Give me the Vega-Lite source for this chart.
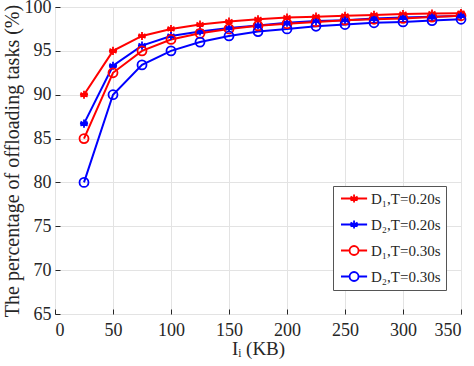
{
  "$schema": "https://vega.github.io/schema/vega-lite/v6.json",
  "autosize": "none",
  "padding": {"left": 55, "top": 7, "right": 13, "bottom": 52},
  "width": 406,
  "height": 307,
  "config": {
    "font": "Liberation Serif",
    "view": {"stroke": "#262626", "strokeWidth": 1},
    "axis": {
      "labelFont": "Liberation Serif",
      "titleFont": "Liberation Serif",
      "labelFontSize": 18,
      "titleFontSize": 20,
      "titleFontWeight": "normal",
      "labelColor": "#262626",
      "titleColor": "#262626",
      "gridColor": "#e3e3e3",
      "gridWidth": 1,
      "domain": false,
      "tickColor": "#262626",
      "tickSize": -5
    },
    "legend": {
      "title": null,
      "orient": "none",
      "legendX": 278,
      "legendY": 179,
      "fillColor": "white",
      "strokeColor": "#555555",
      "padding": 5,
      "labelFont": "Liberation Serif",
      "labelFontSize": 15,
      "labelColor": "#262626",
      "labelOffset": 18,
      "rowPadding": 9,
      "symbolSize": 81,
      "symbolStrokeWidth": 1.8
    }
  },
  "data": {
    "values": [
      {"series": "D₁,T=0.20s", "x": 25, "y": 90.0},
      {"series": "D₁,T=0.20s", "x": 50, "y": 95.0},
      {"series": "D₁,T=0.20s", "x": 75, "y": 96.7},
      {"series": "D₁,T=0.20s", "x": 100, "y": 97.5},
      {"series": "D₁,T=0.20s", "x": 125, "y": 98.0},
      {"series": "D₁,T=0.20s", "x": 150, "y": 98.35},
      {"series": "D₁,T=0.20s", "x": 175, "y": 98.6},
      {"series": "D₁,T=0.20s", "x": 200, "y": 98.8},
      {"series": "D₁,T=0.20s", "x": 225, "y": 98.9},
      {"series": "D₁,T=0.20s", "x": 250, "y": 99.0},
      {"series": "D₁,T=0.20s", "x": 275, "y": 99.1},
      {"series": "D₁,T=0.20s", "x": 300, "y": 99.2},
      {"series": "D₁,T=0.20s", "x": 325, "y": 99.25},
      {"series": "D₁,T=0.20s", "x": 350, "y": 99.3},
      {"series": "D₂,T=0.20s", "x": 25, "y": 86.7},
      {"series": "D₂,T=0.20s", "x": 50, "y": 93.3},
      {"series": "D₂,T=0.20s", "x": 75, "y": 95.6},
      {"series": "D₂,T=0.20s", "x": 100, "y": 96.7},
      {"series": "D₂,T=0.20s", "x": 125, "y": 97.2},
      {"series": "D₂,T=0.20s", "x": 150, "y": 97.6},
      {"series": "D₂,T=0.20s", "x": 175, "y": 97.9},
      {"series": "D₂,T=0.20s", "x": 200, "y": 98.2},
      {"series": "D₂,T=0.20s", "x": 225, "y": 98.4},
      {"series": "D₂,T=0.20s", "x": 250, "y": 98.5},
      {"series": "D₂,T=0.20s", "x": 275, "y": 98.7},
      {"series": "D₂,T=0.20s", "x": 300, "y": 98.8},
      {"series": "D₂,T=0.20s", "x": 325, "y": 98.9},
      {"series": "D₂,T=0.20s", "x": 350, "y": 99.0},
      {"series": "D₁,T=0.30s", "x": 25, "y": 85.0},
      {"series": "D₁,T=0.30s", "x": 50, "y": 92.5},
      {"series": "D₁,T=0.30s", "x": 75, "y": 95.0},
      {"series": "D₁,T=0.30s", "x": 100, "y": 96.3},
      {"series": "D₁,T=0.30s", "x": 125, "y": 97.0},
      {"series": "D₁,T=0.30s", "x": 150, "y": 97.5},
      {"series": "D₁,T=0.30s", "x": 175, "y": 97.85},
      {"series": "D₁,T=0.30s", "x": 200, "y": 98.1},
      {"series": "D₁,T=0.30s", "x": 225, "y": 98.3},
      {"series": "D₁,T=0.30s", "x": 250, "y": 98.5},
      {"series": "D₁,T=0.30s", "x": 275, "y": 98.6},
      {"series": "D₁,T=0.30s", "x": 300, "y": 98.7},
      {"series": "D₁,T=0.30s", "x": 325, "y": 98.85},
      {"series": "D₁,T=0.30s", "x": 350, "y": 99.0},
      {"series": "D₂,T=0.30s", "x": 25, "y": 80.0},
      {"series": "D₂,T=0.30s", "x": 50, "y": 90.0},
      {"series": "D₂,T=0.30s", "x": 75, "y": 93.4},
      {"series": "D₂,T=0.30s", "x": 100, "y": 95.0},
      {"series": "D₂,T=0.30s", "x": 125, "y": 96.0},
      {"series": "D₂,T=0.30s", "x": 150, "y": 96.7},
      {"series": "D₂,T=0.30s", "x": 175, "y": 97.2},
      {"series": "D₂,T=0.30s", "x": 200, "y": 97.5},
      {"series": "D₂,T=0.30s", "x": 225, "y": 97.8},
      {"series": "D₂,T=0.30s", "x": 250, "y": 98.0},
      {"series": "D₂,T=0.30s", "x": 275, "y": 98.2},
      {"series": "D₂,T=0.30s", "x": 300, "y": 98.3},
      {"series": "D₂,T=0.30s", "x": 325, "y": 98.45},
      {"series": "D₂,T=0.30s", "x": 350, "y": 98.6}
    ]
  },
  "encoding": {
    "x": {
      "field": "x", "type": "quantitative",
      "scale": {"domain": [0, 350], "nice": false},
      "axis": {"values": [0, 50, 100, 150, 200, 250, 300, 350], "title": "Iᵢ (KB)", "titleFontSize": 19, "labelPadding": 12, "titlePadding": 0, "grid": true}
    },
    "y": {
      "field": "y", "type": "quantitative",
      "scale": {"domain": [65, 100], "nice": false, "zero": false},
      "axis": {"values": [65, 70, 75, 80, 85, 90, 95, 100], "title": "The percentage of offloading tasks (%)", "labelPadding": 9, "titlePadding": 2, "grid": true}
    },
    "color": {
      "field": "series", "type": "nominal",
      "scale": {"domain": ["D₁,T=0.20s", "D₂,T=0.20s", "D₁,T=0.30s", "D₂,T=0.30s"], "range": ["#ff0000", "#0000ff", "#ff0000", "#0000ff"]},
      "legend": {
        "encode": {
          "symbols": {
            "update": {
              "shape": {"signal": "indexof(datum.value, '0.20') >= 0 ? 'M-1,0L4.8,0M1.9,-0.9L1.9,0.9M1.12,-0.45L2.68,0.45M1.12,0.45L2.68,-0.45' : 'M-1,0L0.9,0M2.9,0A1,1 0 1,0 0.9,0A1,1 0 1,0 2.9,0M2.9,0L4.8,0'"}
            }
          }
        }
      }
    }
  },
  "layer": [
    {
      "mark": {"type": "line", "strokeWidth": 2},
      "encoding": {
        "detail": {"field": "series"}
      }
    },
    {
      "transform": [{"filter": "indexof(datum.series, '0.20') >= 0"}],
      "mark": {"type": "point", "filled": false, "size": 81, "strokeWidth": 1.8, "opacity": 1, "shape": "M0,-0.9L0,0.9M-0.78,-0.45L0.78,0.45M-0.78,0.45L0.78,-0.45M-0.9,0L0.9,0"}
    },
    {
      "transform": [{"filter": "indexof(datum.series, '0.30') >= 0"}],
      "mark": {"type": "point", "filled": false, "size": 81, "strokeWidth": 1.8, "opacity": 1, "shape": "circle"}
    }
  ]
}
